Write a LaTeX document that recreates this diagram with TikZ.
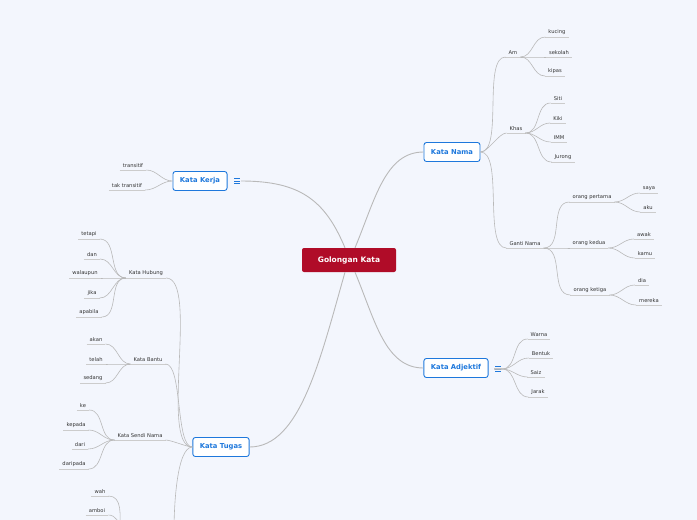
\documentclass[tikz,border=0pt]{standalone}
\usepackage{fontspec}
\setmainfont{DejaVu Sans}
\definecolor{cred}{RGB}{176,12,40}
\definecolor{tblue}{RGB}{30,120,220}
\definecolor{bgc}{RGB}{243,246,253}
\begin{document}
\begin{tikzpicture}[x=1pt,y=-1pt,
  conn/.style={draw=gray!55,line width=0.6pt},
  uline/.style={draw=gray!40,line width=0.6pt},
  leaf/.style={anchor=south,font=\fontsize{5.2}{6}\selectfont,text=black!80,inner xsep=3pt,inner ysep=2pt,
    append after command={(\tikzlastnode.south west) edge[uline] (\tikzlastnode.south east)}},
  topic/.style={draw=tblue,line width=0.9pt,rounded corners=2.5pt,fill=white,text=tblue,font=\bfseries\fontsize{6.8}{8}\selectfont,minimum height=19pt,inner xsep=7pt},
  menuico/.style={draw=tblue,line width=0.6pt}]
\fill[bgc] (0,0) rectangle (697,520);
\useasboundingbox (0,0) rectangle (697,520);
% central
\node[fill=cred,rounded corners=2pt,text=white,font=\bfseries\fontsize{7.5}{9}\selectfont,minimum width=94pt,minimum height=24pt] (c) at (349,260) {Golongan Kata};
\node[topic] (nama) at (452,152) {Kata Nama};
\node[topic] (kerja) at (200,181) {Kata Kerja};
\node[topic] (adj) at (456,368) {Kata Adjektif};
\node[topic] (tugas) at (221,447) {Kata Tugas};
\coordinate (ik) at (237,181);
\coordinate (ia) at (498,369);
\foreach \p in {ik,ia}{\foreach \d in {-2.5,0,2.5}{\draw[menuico] ([xshift=-3pt,yshift=\d pt]\p) -- ([xshift=3pt,yshift=\d pt]\p);}}
\coordinate (ike) at (241,181);
\coordinate (iae) at (494,369);
% main connectors
\draw[conn,line width=0.9pt] ([xshift=6pt]c.north) .. controls (375,200) and (385,152) .. (nama.west);
\draw[conn,line width=0.9pt] ([xshift=-4pt]c.north) .. controls (325,200) and (300,181) .. (ike);
\draw[conn,line width=0.9pt] ([xshift=6pt]c.south) .. controls (375,320) and (385,368) .. (adj.west);
\draw[conn,line width=0.9pt] ([xshift=-4pt]c.south) .. controls (320,360) and (300,447) .. (tugas.east);
% Kata Nama
\node[leaf] (am) at (513,57) {Am};
\node[leaf] (khas) at (516,133) {Khas};
\node[leaf] (ganti) at (525,248) {Ganti Nama};
\foreach \n in {am,khas,ganti}{\draw[conn] (nama.east) to[out=0,in=180,looseness=0.6] (\n.south west);}
\node[leaf] (kucing) at (557,37) {kucing};
\node[leaf] (sekolah) at (559,57) {sekolah};
\node[leaf] (kipas) at (555,76) {kipas};
\foreach \n in {kucing,sekolah,kipas}{\draw[conn] (am.south east) to[out=0,in=180] (\n.south west);}
\node[leaf] (siti) at (558,103) {Siti};
\node[leaf] (kiki) at (558,123) {Kiki};
\node[leaf] (imm) at (559,142) {IMM};
\node[leaf] (jurong) at (563,162) {Jurong};
\foreach \n in {siti,kiki,imm,jurong}{\draw[conn] (khas.south east) to[out=0,in=180] (\n.south west);}
\node[leaf] (op) at (592,202) {orang pertama};
\node[leaf] (ok) at (589,248) {orang kedua};
\node[leaf] (ot) at (590,295) {orang ketiga};
\foreach \n in {op,ok,ot}{\draw[conn] (ganti.south east) to[out=0,in=180] (\n.south west);}
\node[leaf] (saya) at (649,193) {saya};
\node[leaf] (aku) at (648,212) {aku};
\draw[conn] (op.south east) to[out=0,in=180] (saya.south west);
\draw[conn] (op.south east) to[out=0,in=180] (aku.south west);
\node[leaf] (awak) at (644,239) {awak};
\node[leaf] (kamu) at (645,258) {kamu};
\draw[conn] (ok.south east) to[out=0,in=180] (awak.south west);
\draw[conn] (ok.south east) to[out=0,in=180] (kamu.south west);
\node[leaf] (dia) at (642,285) {dia};
\node[leaf] (mereka) at (649,305) {mereka};
\draw[conn] (ot.south east) to[out=0,in=180] (dia.south west);
\draw[conn] (ot.south east) to[out=0,in=180] (mereka.south west);
% Kata Adjektif
\node[leaf] (warna) at (539,339) {Warna};
\node[leaf] (bentuk) at (541,358) {Bentuk};
\node[leaf] (saiz) at (536,377) {Saiz};
\node[leaf] (jarak) at (538,397) {Jarak};
\foreach \n in {warna,bentuk,saiz,jarak}{\draw[conn] (iae) ++(8,0) coordinate (tmp) (iae) -- (tmp) to[out=0,in=180] (\n.south west);}
% Kata Kerja
\node[leaf] (tr) at (133,170) {transitif};
\node[leaf] (ttr) at (127,190) {tak transitif};
\foreach \n in {tr,ttr}{\draw[conn] (kerja.west) to[out=180,in=0] (\n.south east);}
% Kata Tugas
\coordinate (off1) at (174,530);
\coordinate (off2) at (120,530);
\node[leaf] (hubung) at (146,278) {Kata Hubung};
\node[leaf] (bantu) at (148,364) {Kata Bantu};
\node[leaf] (sendi) at (140,440) {Kata Sendi Nama};
\foreach \n in {hubung,bantu,sendi}{\draw[conn] (tugas.west) to[out=180,in=0,looseness=0.5] (\n.south east);}
\draw[conn] (tugas.west) to[out=180,in=90,looseness=0.5] (off1);
\node[leaf] (tetapi) at (89,239) {tetapi};
\node[leaf] (dan) at (92,259) {dan};
\node[leaf] (walaupun) at (85,278) {walaupun};
\node[leaf] (jika) at (92,298) {jika};
\node[leaf] (apabila) at (89,317) {apabila};
\foreach \n in {tetapi,dan,walaupun,jika,apabila}{\draw[conn] (hubung.south west) to[out=180,in=0] (\n.south east);}
\node[leaf] (akan) at (96,344) {akan};
\node[leaf] (telah) at (96,364) {telah};
\node[leaf] (sedang) at (93,383) {sedang};
\foreach \n in {akan,telah,sedang}{\draw[conn] (bantu.south west) to[out=180,in=0] (\n.south east);}
\node[leaf] (ke) at (83,410) {ke};
\node[leaf] (kepada) at (76,430) {kepada};
\node[leaf] (dari) at (80,449) {dari};
\node[leaf] (daripada) at (74,469) {daripada};
\foreach \n in {ke,kepada,dari,daripada}{\draw[conn] (sendi.south west) to[out=180,in=0] (\n.south east);}
\node[leaf] (wah) at (100,496) {wah};
\node[leaf] (amboi) at (97,515) {amboi};
\draw[conn] (wah.south east) to[out=0,in=90] (off2);
\draw[conn] (amboi.south east) to[out=0,in=90] (off2);
\end{tikzpicture}
\end{document}
